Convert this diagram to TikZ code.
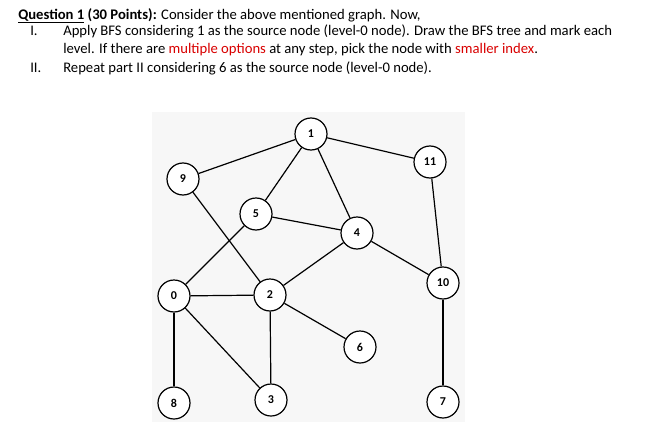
\documentclass[tikz,border=0pt]{standalone}
\usepackage{fontspec}
\setmainfont{Carlito}
\begin{document}
\begin{tikzpicture}[x=0.75pt,y=-0.75pt,
  vtx/.style={circle,draw,line width=0.9pt,fill=white,minimum size=24pt,inner sep=0pt,font=\fontsize{9}{10}\selectfont\bfseries},
  edge/.style={line width=0.9pt},
  txt/.style={anchor=base west,inner sep=0pt,font=\fontsize{11}{13}\selectfont}]
\useasboundingbox (0,0) rectangle (657,439);
\fill[white] (0,0) rectangle (657,439);
\fill[black!3] (152,112) rectangle (465,422);
\node[txt] (q) at (18,19) {\textbf{\underline{Question 1} (30 Points):} Consider the above mentioned graph. Now,};
\node[txt] (r1) at (30,36) {I.};
\node[txt] (t1) at (63,36) {Apply BFS considering 1 as the source node (level-0 node). Draw the BFS tree and mark each};
\node[txt] (t2) at (63,53) {level. If there are \textcolor{red!85!black}{multiple options} at any step, pick the node with \textcolor{red!85!black}{smaller index}.};
\node[txt] (r2) at (30,72) {II.};
\node[txt] (t3) at (63,72) {Repeat part II considering 6 as the source node (level-0 node).};
\node[vtx] (n1) at (311,134) {1};
\node[vtx] (n11) at (430,162) {11};
\node[vtx] (n9) at (183,179) {9};
\node[vtx] (n5) at (256,214) {5};
\node[vtx] (n4) at (357,233) {4};
\node[vtx] (n0) at (174,296) {0};
\node[vtx] (n2) at (270,295) {2};
\node[vtx] (n10) at (443,283) {10};
\node[vtx] (n6) at (360,347) {6};
\node[vtx] (n8) at (174,403) {8};
\node[vtx] (n3) at (271,400) {3};
\node[vtx] (n7) at (443,402) {7};
\foreach \a/\b in {n9/n1,n1/n11,n1/n5,n1/n4,n5/n4,n9/n2,n5/n0,n0/n2,n4/n2,n4/n10,n11/n10,n2/n6,n2/n3,n0/n8,n0/n3,n10/n7}
  \draw[edge] (\a) -- (\b);
\end{tikzpicture}
\end{document}
